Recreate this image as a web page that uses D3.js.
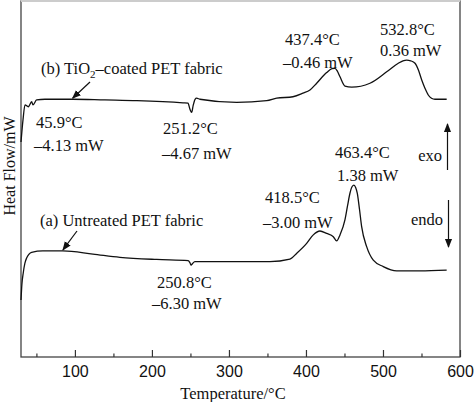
<!DOCTYPE html>
<html>
<head>
<meta charset="utf-8">
<script src="https://cdn.jsdelivr.net/npm/d3@7"></script>
<style>
  body { margin: 0; background: #fff; }
  text { fill: #111; }
</style>
</head>
<body>
<svg id="dsc" width="474" height="402"></svg>
<script>
// curve (b) TiO2-coated PET, heat flow in relative units
var tempsB = [30, 32.6, 35.2, 39.5, 43.9, 45.5, 50.3, 61, 97.4, 139, 180.6, 240.4, 246.8, 249.5, 251.6, 253.5, 256, 258, 262.3, 310, 349, 362, 383.1, 396.1, 405.2, 413.9, 426.9, 433.8, 437.7, 441, 444.2, 450.6, 459.4, 483.1, 504.8, 519.9, 526, 530.8, 536, 541.6, 546, 550.3, 554.5, 558.8, 563, 567.5, 582.7]
var flowB = [60.4, 66.6, 70.8, 70.3, 71.7, 70.8, 72.2, 72.4, 72.4, 72.2, 72.0, 71.4, 71.3, 69.5, 68.7, 70.6, 72.4, 72.7, 72.4, 71.5, 72.0, 72.7, 73.1, 74.1, 75.0, 76.9, 79.9, 81.0, 81.1, 80.2, 78.7, 76.1, 75.8, 76.9, 80.1, 82.5, 83.2, 83.4, 83.2, 82.5, 80.6, 77.8, 75.5, 73.6, 72.7, 72.4, 72.4]

// curve (a) untreated PET
var tempsA = [30, 31.2, 32.9, 35, 37.3, 43.8, 58.4, 84.4, 123.4, 158.4, 206.1, 247.1, 249.5, 250.9, 252.5, 255.8, 284, 327.3, 353.2, 379.2, 387.9, 400.9, 409.5, 418.2, 426.9, 435.5, 439.9, 444.2, 450.6, 454, 457.1, 460, 462.3, 464.5, 466.6, 469.5, 472.3, 478.8, 487.4, 500.4, 517.8, 548.1, 582.7]
var flowA = [16.0, 20.5, 23.6, 26.3, 27.8, 29.4, 29.8, 29.8, 28.9, 28.0, 27.4, 27.1, 26.4, 25.8, 26.2, 26.8, 26.8, 26.8, 26.8, 27.5, 29.1, 31.9, 34.3, 35.4, 34.7, 33.8, 32.6, 34.3, 38.5, 42.5, 46.0, 47.9, 48.3, 47.6, 46.0, 41.5, 36.6, 31.0, 27.2, 25.4, 24.2, 24.2, 24.4]

var majorTicks = [100, 200, 300, 400, 500, 600]
var minorTicks = [50, 150, 250, 350, 450, 550]

// peak annotation texts
var peakTemps = ["45.9°C", "251.2°C", "437.4°C", "532.8°C", "250.8°C", "418.5°C", "463.4°C"]
var peakFlows = ["–4.13 mW", "–4.67 mW", "–0.46 mW", "0.36 mW", "–6.30 mW", "–3.00 mW", "1.38 mW"]

// where each annotation sits: [x line1, y line1, x line2, y line2]
var peakPos = [
  [36, 122, 34, 145],
  [163, 128, 162, 153],
  [285, 39, 283, 62],
  [380, 29, 380, 50],
  [157, 282, 152, 303],
  [265, 197, 263, 222],
  [335, 152, 337, 175]
]

var margin = {left: 21, right: 14, top: 1, bottom: 45}
var W = 474, H = 402

var svg = d3.select("#dsc")

var x = d3.scaleLinear().domain([30, 600]).range([margin.left, W - margin.right])
var y = d3.scaleLinear().domain([0, 100]).range([H - margin.bottom, margin.top])

var serif = "'Liberation Serif', 'Times New Roman', serif"
var sans = "'Liberation Sans', Arial, sans-serif"

// frame
svg.append("rect")
  .attr("x", x(30)).attr("y", y(100))
  .attr("width", x(600) - x(30)).attr("height", y(0) - y(100))
  .attr("fill", "none").attr("stroke", "#444").attr("stroke-width", 1.3)
svg.append("line")
  .attr("x1", x(30)).attr("x2", x(600)).attr("y1", y(100)).attr("y2", y(100))
  .attr("stroke", "#ccc").attr("stroke-width", 2)

// axes
var xAxis = svg.append("g")
  .attr("transform", "translate(0," + y(0) + ")")
  .call(d3.axisBottom(x).tickValues(majorTicks).tickSize(-7).tickPadding(9).tickFormat(d3.format("d")))
xAxis.select(".domain").remove()
xAxis.selectAll("line").attr("stroke", "#333").attr("stroke-width", 1.2)
xAxis.selectAll("text").attr("font-family", sans).attr("font-size", 16).attr("fill", "#111")

var xMinor = svg.append("g")
  .attr("transform", "translate(0," + y(0) + ")")
  .call(d3.axisBottom(x).tickValues(minorTicks).tickSize(-3.5).tickFormat(""))
xMinor.select(".domain").remove()
xMinor.selectAll("line").attr("stroke", "#333").attr("stroke-width", 1.2)

svg.append("text")
  .attr("x", 233).attr("y", 393).attr("dy", "0.35em")
  .attr("text-anchor", "middle")
  .attr("font-family", serif).attr("font-size", 16.5)
  .text("Temperature/°C")

svg.append("text")
  .attr("transform", "translate(9,166) rotate(-90)")
  .attr("dy", "0.35em")
  .attr("text-anchor", "middle")
  .attr("font-family", serif).attr("font-size", 16)
  .text("Heat Flow/mW")

// curves
var line = d3.line()
  .x(function(d) { return x(d[0]) })
  .y(function(d) { return y(d[1]) })
  .curve(d3.curveMonotoneX)

var dataB = tempsB.map(function(t, i) { return [t, flowB[i]] })
var dataA = tempsA.map(function(t, i) { return [t, flowA[i]] })

svg.append("path").datum(dataB)
  .attr("d", line).attr("fill", "none").attr("stroke", "#111").attr("stroke-width", 1.3)
svg.append("path").datum(dataA)
  .attr("d", line).attr("fill", "none").attr("stroke", "#111").attr("stroke-width", 1.3)

// arrow marker
svg.append("defs").append("marker")
  .attr("id", "ah").attr("viewBox", "0 0 10 10")
  .attr("refX", 9).attr("refY", 5)
  .attr("markerWidth", 9).attr("markerHeight", 9)
  .attr("markerUnits", "userSpaceOnUse")
  .attr("orient", "auto")
  .append("path").attr("d", "M0,1 L10,5 L0,9 Z").attr("fill", "#111")

function arrow(x1, y1, x2, y2) {
  svg.append("line")
    .attr("x1", x1).attr("y1", y1).attr("x2", x2).attr("y2", y2)
    .attr("stroke", "#111").attr("stroke-width", 1.2)
    .attr("marker-end", "url(#ah)")
}

// sample labels
var tb = svg.append("text")
  .attr("x", 41).attr("y", 68).attr("dy", "0.35em")
  .attr("font-family", serif).attr("font-size", 16.5)
tb.append("tspan").text("(b) TiO")
tb.append("tspan").attr("font-size", 11).attr("dy", 4).text("2")
tb.append("tspan").attr("dy", -4).text("–coated PET fabric")
arrow(90, 82, x(97), y(72.4) - 1)

svg.append("text")
  .attr("x", 40).attr("y", 220).attr("dy", "0.35em")
  .attr("font-family", serif).attr("font-size", 16.5)
  .text("(a) Untreated PET fabric")
arrow(77, 231, x(84.4), y(29.8) - 1)

// peak annotations
peakPos.forEach(function(p, i) {
  svg.append("text")
    .attr("x", p[0]).attr("y", p[1]).attr("dy", "0.35em")
    .attr("font-family", serif).attr("font-size", 16.5)
    .text(peakTemps[i])
  svg.append("text")
    .attr("x", p[2]).attr("y", p[3]).attr("dy", "0.35em")
    .attr("font-family", serif).attr("font-size", 16.5)
    .text(peakFlows[i])
})

// exo / endo
svg.append("text")
  .attr("x", 442).attr("y", 155).attr("dy", "0.35em")
  .attr("text-anchor", "end")
  .attr("font-family", serif).attr("font-size", 16.5)
  .text("exo")
arrow(447.5, 170, 447.5, 124)
svg.append("text")
  .attr("x", 443).attr("y", 219).attr("dy", "0.35em")
  .attr("text-anchor", "end")
  .attr("font-family", serif).attr("font-size", 16.5)
  .text("endo")
arrow(448.5, 200, 448.5, 247)
</script>
</body>
</html>
